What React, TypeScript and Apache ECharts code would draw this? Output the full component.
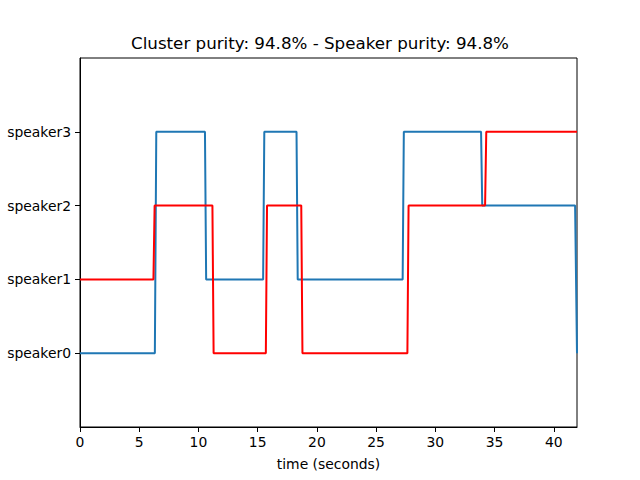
import React, { useEffect, useRef } from "react";
import * as echarts from "echarts";

const titleText = "Cluster purity: 94.8% - Speaker purity: 94.8%";
const xLabel = "time (seconds)";
const speakerNames = ["speaker0", "speaker1", "speaker2", "speaker3"];
const xTicks = [0, 5, 10, 15, 20, 25, 30, 35, 40];
const yTicks = [0, 1, 2, 3];
const xMax = 41.96;

// blue series (hypothesis)
const blueTime = [0, 6.32, 6.44, 10.55, 10.65, 15.46, 15.56, 18.28, 18.38, 27.24, 27.34, 33.86, 33.96, 41.8, 41.96];
const blueSpeaker = [0, 0, 3, 3, 1, 1, 3, 3, 1, 1, 3, 3, 2, 2, 0];

// red series (reference)
const redTime = [0, 6.2, 6.3, 11.18, 11.28, 15.69, 15.79, 18.68, 18.78, 27.64, 27.74, 34.2, 34.3, 41.96];
const redSpeaker = [1, 1, 2, 2, 0, 0, 2, 2, 0, 0, 2, 2, 3, 3];

const FONT = "DejaVu Sans";

export default function App() {
  const ref = useRef<HTMLDivElement>(null);
  useEffect(() => {
    if (!ref.current) return;
    const chart = echarts.init(ref.current, undefined, { renderer: "svg" });
    const zip = (t: number[], s: number[]) => t.map((v, i) => [v, s[i]]);
    chart.setOption({
      animation: false,
      backgroundColor: "#ffffff",
      title: {
        text: titleText,
        left: "center",
        top: 29,
        textStyle: { fontFamily: FONT, fontSize: 16.7, fontWeight: "normal", color: "#000" },
      },
      grid: {
        left: 80,
        right: 63,
        top: 58,
        bottom: 53,
        show: true,
        borderColor: "#000",
        borderWidth: 1,
        backgroundColor: "transparent",
      },
      xAxis: {
        type: "value",
        min: 0,
        max: xMax,
        interval: 5,
        name: xLabel,
        nameLocation: "middle",
        nameGap: 30,
        nameTextStyle: { fontFamily: FONT, fontSize: 13.9, color: "#000" },
        axisLine: { show: true, onZero: false, lineStyle: { color: "#000", width: 1 } },
        axisTick: { show: true, length: 5, customValues: xTicks, lineStyle: { color: "#000", width: 1 } },
        axisLabel: {
          customValues: xTicks,
          margin: 8,
          fontFamily: FONT,
          fontSize: 13.9,
          color: "#000",
        },
        splitLine: { show: false },
      },
      yAxis: {
        type: "value",
        min: -1,
        max: 4,
        interval: 1,
        axisLine: { show: true, onZero: false, lineStyle: { color: "#000", width: 1 } },
        axisTick: { show: true, length: 5, customValues: yTicks, lineStyle: { color: "#000", width: 1 } },
        axisLabel: {
          customValues: yTicks,
          margin: 9,
          fontFamily: FONT,
          fontSize: 13.9,
          color: "#000",
          formatter: (v: number) => speakerNames[Math.round(v)] ?? "",
        },
        splitLine: { show: false },
      },
      series: [
        {
          type: "line",
          name: "hypothesis",
          data: zip(blueTime, blueSpeaker),
          showSymbol: false,
          symbol: "none",
          lineStyle: { color: "#1f77b4", width: 2 },
          itemStyle: { color: "#1f77b4" },
        },
        {
          type: "line",
          name: "reference",
          data: zip(redTime, redSpeaker),
          showSymbol: false,
          symbol: "none",
          lineStyle: { color: "#ff0000", width: 2 },
          itemStyle: { color: "#ff0000" },
        },
      ],
    });
    return () => chart.dispose();
  }, []);
  return (
    <div
      ref={ref}
      style={{ position: "absolute", left: 0, top: 0, width: 640, height: 480 }}
    />
  );
}
